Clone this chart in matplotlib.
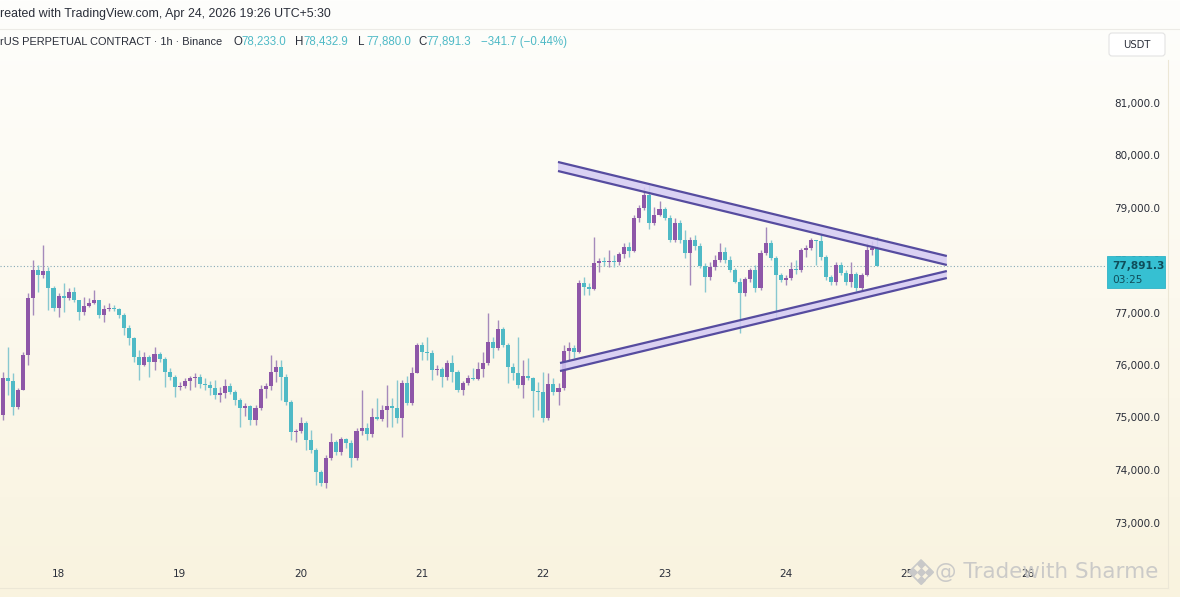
import numpy as np
import matplotlib
matplotlib.use("Agg")
import matplotlib.pyplot as plt
from matplotlib.colors import LinearSegmentedColormap
from matplotlib.patches import Rectangle, FancyBboxPatch, Polygon

# BTCUSDT perpetual, 1h candles (Apr 17 13:00 -> Apr 24 18:00)
first_open = 75050
closes = [
    75750, 75700, 75200, 75520, 76190, 77280, 77810, 77710, 77790, 77470,
    77090, 77310, 77280, 77390, 77240, 77010, 77120, 77180, 77240, 76950,
    77070, 77090, 77070, 76950, 76700, 76510, 76150, 76000, 76150, 76060,
    76210, 76110, 75870, 75770, 75580, 75600, 75700, 75750, 75770, 75640,
    75620, 75560, 75430, 75470, 75600, 75490, 75330, 75180, 75220, 74950,
    75180, 75540, 75600, 75870, 75960, 75770, 75300, 74720, 74740, 74890,
    74570, 74380, 73960, 73750, 74230, 74530, 74340, 74590, 74510, 74230,
    74740, 74800, 74690, 75010, 74970, 75140, 75220, 75180, 74990, 75660,
    75280, 75850, 76380, 76250, 76230, 75900, 75920, 75770, 76040, 75870,
    75520, 75660, 75750, 75730, 75920, 76040, 76440, 76320, 76690, 76380,
    75960, 75850, 75620, 75790, 75750, 75500, 75490, 74990, 75640, 75490,
    75560, 76270, 76320, 76250, 77560, 77490, 77450, 77940, 77980, 77970,
    77990, 77960, 78110, 78250, 78170, 78800, 78990, 79240, 78700, 78860,
    78970, 78800, 78380, 78700, 78380, 78130, 78380, 78270, 77890, 77680,
    77870, 78000, 78150, 78000, 77810, 77580, 77370, 77640, 77810, 77470,
    78130, 78320, 78040, 77710, 77620, 77660, 77830, 77810, 78190, 78230,
    78380, 78360, 78060, 77680, 77580, 77900, 77750, 77580, 77730, 77470,
    77710, 78190, 78233.0, 77891.3,
]
highs = [
    75870, 76340, 75850, 75560, 76250, 77370, 78000, 77900, 78290, 77870,
    77500, 77370, 77560, 77470, 77490, 77240, 77300, 77280, 77430, 77240,
    77140, 77180, 77140, 77090, 76990, 76760, 76530, 76290, 76250, 76190,
    76340, 76250, 76150, 75940, 75810, 75680, 75750, 75790, 75850, 75830,
    75750, 75700, 75710, 75580, 75730, 75660, 75520, 75370, 75280, 75240,
    75240, 75620, 75660, 76190, 76100, 76100, 75830, 75330, 74780, 75010,
    74930, 74760, 74420, 74000, 74290, 74700, 74570, 74630, 74610, 74570,
    74800, 75520, 74890, 75180, 75370, 75240, 75620, 75370, 75710, 75710,
    75790, 75960, 76420, 76440, 76530, 76290, 76000, 75960, 76100, 76190,
    75900, 75700, 75810, 75940, 76060, 76250, 76990, 76530, 76860, 76720,
    76420, 76040, 76530, 76100, 76130, 75770, 75680, 75870, 75850, 75750,
    75660, 76380, 76440, 76380, 77620, 77680, 77560, 78440, 78040, 78060,
    78190, 78100, 78150, 78320, 78340, 78860, 79050, 79390, 79430, 79010,
    79120, 79010, 78860, 78800, 78760, 78570, 78440, 78480, 78320, 77940,
    77960, 78100, 78320, 78250, 78080, 77850, 77660, 77680, 77850, 77900,
    78190, 78630, 78380, 78080, 77750, 77710, 77960, 78000, 78230, 78290,
    78420, 78380, 78510, 78100, 77710, 77960, 77960, 77810, 77960, 77770,
    77750, 78320, 78360, 78432.9,
]
lows = [
    74950, 75430, 75050, 75160, 75960, 76000, 76950, 77390, 77660, 77050,
    77030, 76910, 77010, 77240, 77200, 76860, 76950, 77100, 77160, 76900,
    76820, 77030, 77030, 76900, 76570, 76380, 76060, 75710, 75980, 75770,
    75900, 76060, 75580, 75710, 75390, 75520, 75560, 75520, 75580, 75560,
    75520, 75430, 75350, 75300, 75370, 75450, 75240, 74820, 75030, 74860,
    74860, 75140, 75370, 75520, 75680, 75330, 75240, 74570, 74530, 74700,
    74380, 74320, 73710, 73690, 73660, 74190, 74290, 74290, 74420, 74060,
    74190, 74670, 74570, 74630, 74950, 74930, 74820, 74820, 74890, 74630,
    75240, 75240, 75850, 76100, 76100, 75710, 75810, 75580, 75710, 75680,
    75490, 75430, 75620, 75710, 75710, 75770, 76000, 76130, 76290, 76340,
    75660, 75710, 75560, 75370, 75710, 75010, 75140, 74910, 74950, 75430,
    75240, 75520, 76100, 76130, 76230, 77330, 77330, 77430, 77770, 77890,
    77870, 77870, 77900, 78040, 78060, 78150, 78720, 78950, 78590, 78670,
    78840, 78760, 78340, 78340, 78320, 78040, 77520, 78190, 77850, 77390,
    77620, 77810, 77960, 77940, 77770, 77560, 76610, 77310, 77580, 77390,
    77430, 78100, 78000, 76900, 77580, 77520, 77620, 77730, 77770, 78060,
    78190, 77900, 78000, 77620, 77520, 77520, 77710, 77520, 77490, 77410,
    77430, 77700, 78100, 77880.0,
]

price_ticks = [73000, 74000, 75000, 76000, 77000, 78000, 79000, 80000, 81000]
day_labels = ['18', '19', '20', '21', '22', '23', '24', '25', '26']
first_midnight = 11  # bar index of Apr 18 00:00

# triangle drawing: (bar, price) endpoints of the two parallel channels
upper_top = [(109.9, 79867), (186.9, 78076)]
upper_bot = [(109.9, 79695), (186.9, 77905)]
lower_top = [(110.3, 76038), (186.9, 77790)]
lower_bot = [(110.3, 75885), (186.9, 77657)]

UP = '#8e57a8'
DOWN = '#4fbac6'
TXT = '#2a2e39'
HDR = 'Liberation Sans'

W, H = 1180, 597
fig = plt.figure(figsize=(W / 100, H / 100), dpi=100)

# background gradient
bg = fig.add_axes([0, 0, 1, 1], zorder=-5)
cmap = LinearSegmentedColormap.from_list('bg', ['#fefefc', '#fcf9ee', '#f9f3df'])
bg.imshow(np.linspace(0, 1, 256).reshape(-1, 1), aspect='auto', cmap=cmap,
          extent=[0, 1, 0, 1])
bg.axis('off')

# pane: pixels x 0..1085, y 60..558
PX0, PX1, PY0, PY1 = 0, 1085, 60, 558
BAR0, BARW = 3.0, 5.05        # pixel of bar 0, pixels per bar
Y78, PXK = 260.0, 52.5        # pixel of 78,000 and pixels per 1,000
ax = fig.add_axes([PX0 / W, 1 - PY1 / H, (PX1 - PX0) / W, (PY1 - PY0) / H])
ax.set_facecolor('none')
ax.set_xlim((PX0 - BAR0) / BARW, (PX1 - BAR0) / BARW)
ax.set_ylim(78000 - (PY1 - Y78) * 1000 / PXK, 78000 + (Y78 - PY0) * 1000 / PXK)

closes = np.array(closes, float)
opens = np.concatenate([[first_open], closes[:-1]])
highs = np.maximum(np.array(highs, float), np.maximum(opens, closes))
lows = np.minimum(np.array(lows, float), np.minimum(opens, closes))
x = np.arange(len(closes))
up = closes >= opens
cols = np.where(up, UP, DOWN)
wick_cols = np.where(up, '#a58abb', '#88c8d0')

ax.vlines(x, lows, highs, colors=wick_cols, lw=1.0, zorder=2)
ax.bar(x, np.maximum(np.abs(closes - opens), 18), bottom=np.minimum(opens, closes),
       width=0.8, color=cols, zorder=3, linewidth=0)

# triangle channels
for top, bot in [(upper_top, upper_bot), (lower_top, lower_bot)]:
    poly = Polygon([top[0], top[1], bot[1], bot[0]], closed=True,
                   facecolor='#d5cbf4', edgecolor='none', alpha=0.85, zorder=4)
    ax.add_patch(poly)
    for ln in (top, bot):
        ax.plot([ln[0][0], ln[1][0]], [ln[0][1], ln[1][1]], color='#564c9f',
                lw=1.6, zorder=5, solid_capstyle='butt')

# last price dotted line
last = closes[-1]
ax.plot([ax.get_xlim()[0], (1107 - BAR0) / BARW], [last, last], ls=(0, (1, 2)),
        color='#86a9b6', lw=0.8, zorder=1, clip_on=False)

# axes styling
for s in ax.spines.values():
    s.set_visible(False)
ax.yaxis.tick_right()
ax.set_yticks(price_ticks)
ax.set_yticklabels([f'{v:,.1f}' for v in price_ticks])
ax.tick_params(axis='y', length=0, pad=21, labelsize=7.5, labelcolor=TXT)
ax.set_xticks([first_midnight + 24 * k for k in range(len(day_labels))])
ax.set_xticklabels(day_labels)
ax.tick_params(axis='x', length=0, pad=8, labelsize=7.5, labelcolor=TXT)

# overlay in pixel coordinates
ov = fig.add_axes([0, 0, 1, 1], zorder=10)
ov.set_xlim(0, W)
ov.set_ylim(H, 0)
ov.axis('off')
ov.patch.set_alpha(0)

ov.text(0, 14, 'reated with TradingView.com, Apr 24, 2026 19:26 UTC+5:30',
        va='center', ha='left', fontsize=8.9, color=TXT, family=HDR)
ov.plot([0, W], [29, 29], color='#ecebe6', lw=0.8)
ov.text(0, 42, 'rUS PERPETUAL CONTRACT · 1h · Binance', va='center', ha='left',
        fontsize=7.9, color=TXT, family=HDR)
ohlc = [(233, 'O', '78,233.0'), (295, 'H', '78,432.9'), (358, 'L', '77,880.0'),
        (418, 'C', '77,891.3')]
for px, k, v in ohlc:
    ov.text(px, 42, k, va='center', ha='left', fontsize=8.3, color=TXT, family=HDR)
    ov.text(px + 8.5, 42, v, va='center', ha='left', fontsize=8.3, color=DOWN,
            family=HDR)
ov.text(481, 42, '\u2212341.7 (\u22120.44%)', va='center', ha='left',
        fontsize=8.3, color=DOWN, family=[HDR, 'DejaVu Sans'])

# USDT box
ov.add_patch(FancyBboxPatch((1109, 33), 56, 23, boxstyle='round,pad=0,rounding_size=3',
                            facecolor='white', edgecolor='#e3e3e3', lw=0.8))
ov.text(1137, 44.5, 'USDT', ha='center', va='center', fontsize=7.2, color=TXT)

# right and bottom borders
ov.plot([1168, 1168], [60, 588], color='#ece7d6', lw=0.8)
ov.plot([0, 1168], [588, 588], color='#ece7d6', lw=0.8)

# last price label
yl = H - ax.transData.transform((0, last))[1]
ov.add_patch(Rectangle((1107, yl - 10), 58, 32, facecolor='#36c0d2',
                       edgecolor='#2fb3c6', lw=0.6))
ov.text(1112, yl + 0.5, f'{last:,.1f}', ha='left', va='center', fontsize=7.6,
        color='#0f4d5a', fontweight='bold')
ov.text(1112, yl + 14, '03:25', ha='left', va='center', fontsize=7.6,
        color='#0f4d5a')

# watermark
ov.scatter([921], [572], marker='D', s=150, facecolor='none', edgecolor='#c9c9c9', lw=1.2)
ov.scatter([921, 913, 929, 921, 921], [572, 572, 572, 564, 580], marker='D', s=14,
           color='#c9c9c9')
ov.text(935, 572, '@ Tradewith Sharme', ha='left', va='center', fontsize=15.5,
        color='#c6c6c6', alpha=0.9)

fig.savefig('out.png', dpi=100)
